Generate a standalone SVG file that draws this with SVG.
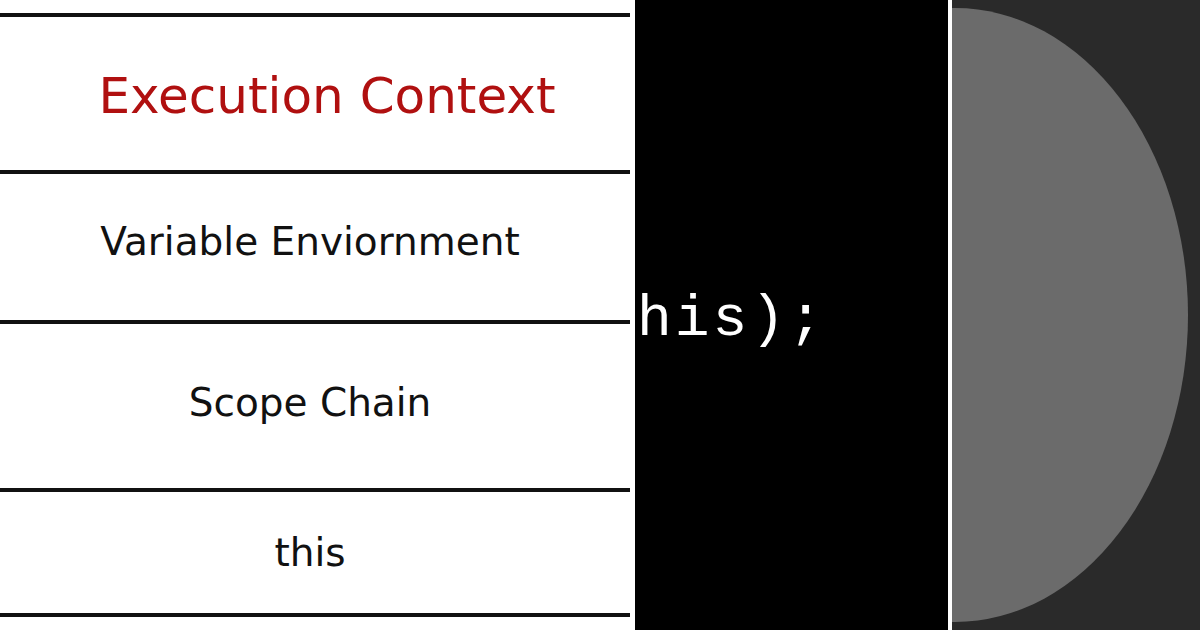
<svg xmlns="http://www.w3.org/2000/svg" width="1200" height="630" viewBox="0 0 1200 630">
<style>
.l{stroke:#111;stroke-width:4}
.t{font-family:"DejaVu Sans",sans-serif;fill:#111;text-anchor:middle;font-size:39px}
</style>
<rect width="1200" height="630" fill="#fff"/>
<rect x="635" y="0" width="313" height="630" fill="#000"/>
<rect x="952" y="0" width="248" height="630" fill="#2a2a2a"/>
<clipPath id="c"><rect x="952" y="0" width="248" height="630"/></clipPath>
<ellipse cx="955" cy="315" rx="233" ry="307" fill="#6b6b6b" clip-path="url(#c)"/>
<g id="connectors">
<line class="l" x1="0" y1="15" x2="630" y2="15"/>
<line class="l" x1="0" y1="172" x2="630" y2="172"/>
<line class="l" x1="0" y1="322" x2="630" y2="322"/>
<line class="l" x1="0" y1="490" x2="630" y2="490"/>
<line class="l" x1="0" y1="615" x2="630" y2="615"/>
</g>
<g id="n1"><text class="t" x="327" y="113" style="fill:#b01010;font-size:50px">Execution Context</text></g>
<g id="n2"><text class="t" x="310" y="255">Variable Enviornment</text></g>
<g id="n3"><text class="t" x="310" y="416">Scope Chain</text></g>
<g id="n4"><text class="t" x="310" y="566">this</text></g>
<text x="637" y="335" font-family="Liberation Mono, monospace" font-size="58" letter-spacing="3" fill="#fff">his);</text>
</svg>
